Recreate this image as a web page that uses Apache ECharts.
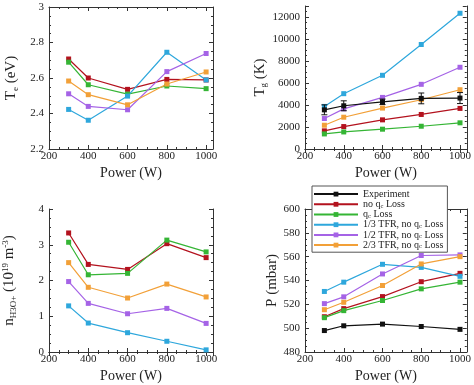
<!DOCTYPE html>
<html><head><meta charset="utf-8">
<script src="https://cdn.jsdelivr.net/npm/echarts@6/dist/echarts.min.js"></script>
<style>html,body{margin:0;padding:0;background:#fff}#c{width:474px;height:385px}</style>
</head><body><div id="c"></div>
<script>
// ---- data ----
const powers = [300, 400, 600, 800, 1000];
const seriesNames = ['Experiment', 'no qc Loss', 'qc Loss', '1/3 TFR, no qc Loss', '1/2 TFR, no qc Loss', '2/3 TFR, no qc Loss'];
const seriesColors = ['#111111', '#b3121e', '#35b535', '#2ea7dc', '#a563e6', '#f2a038'];

// electron temperature (eV)
const te_noQc  = [2.707, 2.600, 2.536, 2.592, 2.589];
const te_qc    = [2.689, 2.562, 2.509, 2.555, 2.540];
const te_tfr13 = [2.423, 2.362, 2.498, 2.745, 2.589];
const te_tfr12 = [2.511, 2.440, 2.421, 2.636, 2.738];
const te_tfr23 = [2.583, 2.506, 2.449, 2.566, 2.634];

// gas temperature (K)
const tg_exp    = [3560, 3930, 4290, 4600, 4630];
const tg_expErr = [450, 450, 250, 490, 500];
const tg_noQc   = [1650, 2040, 2650, 3140, 3690];
const tg_qc     = [1370, 1550, 1800, 2070, 2380];
const tg_tfr13  = [3870, 5030, 6700, 9500, 12340];
const tg_tfr12  = [2770, 3650, 4690, 5880, 7430];
const tg_tfr23  = [2160, 2890, 3720, 4480, 5390];

// H3O+ density (1e19 m^-3)
const n_noQc  = [3.33, 2.45, 2.31, 3.03, 2.64];
const n_qc    = [3.07, 2.16, 2.20, 3.13, 2.80];
const n_tfr13 = [1.29, 0.81, 0.54, 0.30, 0.06];
const n_tfr12 = [1.97, 1.36, 1.07, 1.22, 0.80];
const n_tfr23 = [2.50, 1.81, 1.51, 1.90, 1.54];

// pressure (mbar)
const p_exp   = [498.0, 502.0, 503.4, 501.4, 499.0];
const p_noQc  = [509.6, 516.4, 526.5, 539.0, 546.0];
const p_qc    = [508.8, 514.7, 523.2, 533.0, 538.6];
const p_tfr13 = [530.8, 538.6, 553.6, 551.0, 543.5];
const p_tfr12 = [520.6, 526.3, 545.5, 561.0, 561.5];
const p_tfr23 = [515.5, 521.7, 535.8, 553.9, 560.0];

// axis ranges / ticks
const xMin = 200, xMax = 1035, xStep = 200;
const yRanges = [
  {min: 2.2, max: 3.0, step: 0.2},
  {min: 0, max: 13000, step: 2000},
  {min: 0, max: 4, step: 1},
  {min: 480, max: 600, step: 20}
];

// ---- chart ----
const FONT = 'Liberation Serif';
const TXT = '#222';
const grids = [
  {left: 49, top: 7, width: 164, height: 142},
  {left: 305, top: 6, width: 164, height: 143},
  {left: 49, top: 209, width: 164, height: 143},
  {left: 305, top: 209, width: 164, height: 143}
];
const richStyles = {
  sub: {fontFamily: FONT, fontSize: 9, color: TXT, verticalAlign: 'bottom', lineHeight: 17},
  sup: {fontFamily: FONT, fontSize: 9, color: TXT, verticalAlign: 'top', lineHeight: 17},
  n: {fontFamily: FONT, fontSize: 15, color: TXT, lineHeight: 17}
};
const yNames = [
  '{n|T}{sub|e}{n| (eV)}',
  '{n|T}{sub|g}{n| (K)}',
  '{n|n}{sub|H3O+}{n| (10}{sup|19}{n| m}{sup|-3}{n|)}',
  '{n|P (mbar)}'
];
const yNameGaps = [29, 28, 31, 24];

const xAxes = [], yAxes = [];
const lineCol = '#333';
grids.forEach((g, i) => {
  const r = yRanges[i];
  const common = {
    gridIndex: i, type: 'value',
    axisLine: {show: true, lineStyle: {color: lineCol, width: 1}},
    axisTick: {show: true, inside: true, length: 4, lineStyle: {color: lineCol}},
    minorTick: {show: true, splitNumber: 4, length: 2, lineStyle: {color: lineCol}},
    splitLine: {show: false}
  };
  xAxes.push(Object.assign({}, common, {
    position: 'bottom', min: xMin, max: xMax, interval: xStep,
    name: 'Power (W)', nameLocation: 'middle', nameGap: 17,
    nameTextStyle: {fontFamily: FONT, fontSize: 14, color: TXT},
    axisLabel: {fontFamily: FONT, fontSize: 11, color: TXT, margin: 2,
      formatter: v => (Math.abs(v % xStep) < 1e-6 ? String(v) : '')}
  }));
  xAxes.push(Object.assign({}, common, {
    position: 'top', min: xMin, max: xMax, interval: xStep, axisLabel: {show: false}
  }));
  yAxes.push(Object.assign({}, common, {
    position: 'left', min: r.min, max: r.max, interval: r.step,
    name: yNames[i], nameLocation: 'middle', nameRotate: 90, nameGap: yNameGaps[i],
    nameTextStyle: {fontFamily: FONT, fontSize: 15, color: TXT, rich: richStyles},
    axisLabel: {fontFamily: FONT, fontSize: 11, color: TXT, margin: 5,
      formatter: v => {
        const k = (v - r.min) / r.step;
        return Math.abs(k - Math.round(k)) < 1e-6 ? String(+v.toFixed(2)) : '';
      }}
  }));
  yAxes.push(Object.assign({}, common, {
    position: 'right', min: r.min, max: r.max, interval: r.step, axisLabel: {show: false}
  }));
});

function pairs(vals) { return powers.map((p, k) => [p, vals[k]]); }

const plotData = [
  [null, te_noQc, te_qc, te_tfr13, te_tfr12, te_tfr23],
  [tg_exp, tg_noQc, tg_qc, tg_tfr13, tg_tfr12, tg_tfr23],
  [null, n_noQc, n_qc, n_tfr13, n_tfr12, n_tfr23],
  [p_exp, p_noQc, p_qc, p_tfr13, p_tfr12, p_tfr23]
];

const series = [];
plotData.forEach((arrs, gi) => {
  arrs.forEach((vals, si) => {
    if (!vals) return;
    series.push({
      type: 'line', name: seriesNames[si],
      xAxisIndex: gi * 2, yAxisIndex: gi * 2,
      data: pairs(vals),
      symbol: 'rect', symbolSize: 5,
      lineStyle: {width: 1.2, color: seriesColors[si]},
      itemStyle: {color: seriesColors[si]},
      z: si === 0 ? 5 : 3
    });
  });
});

// error bars for experimental gas temperature
series.push({
  type: 'custom', name: 'Experiment', xAxisIndex: 2, yAxisIndex: 2, z: 6,
  data: powers.map((p, k) => [p, tg_exp[k] - tg_expErr[k], tg_exp[k] + tg_expErr[k]]),
  renderItem: function (params, api) {
    const lo = api.coord([api.value(0), api.value(1)]);
    const hi = api.coord([api.value(0), api.value(2)]);
    const w = 3;
    const st = {stroke: '#111', lineWidth: 1};
    return {type: 'group', children: [
      {type: 'line', shape: {x1: lo[0], y1: lo[1], x2: hi[0], y2: hi[1]}, style: st},
      {type: 'line', shape: {x1: lo[0] - w, y1: lo[1], x2: lo[0] + w, y2: lo[1]}, style: st},
      {type: 'line', shape: {x1: hi[0] - w, y1: hi[1], x2: hi[0] + w, y2: hi[1]}, style: st}
    ]};
  }
});

const legendLabels = {
  'Experiment': '{t|Experiment}',
  'no qc Loss': '{t|no q}{s|c}{t| Loss}',
  'qc Loss': '{t|q}{s|c}{t| Loss}',
  '1/3 TFR, no qc Loss': '{t|1/3 TFR, no q}{s|c}{t| Loss}',
  '1/2 TFR, no qc Loss': '{t|1/2 TFR, no q}{s|c}{t| Loss}',
  '2/3 TFR, no qc Loss': '{t|2/3 TFR, no q}{s|c}{t| Loss}'
};

const chart = echarts.init(document.getElementById('c'), null, {renderer: 'canvas'});
chart.setOption({
  animation: false,
  backgroundColor: '#fff',
  grid: grids.map(g => Object.assign({containLabel: false}, g)),
  xAxis: xAxes,
  yAxis: yAxes,
  legend: {
    data: seriesNames,
    orient: 'vertical',
    left: 312, top: 186,
    itemWidth: 44, itemHeight: 6, itemGap: 0,
    padding: [3, 4, 2, 1],
    backgroundColor: '#fff',
    borderColor: '#555', borderWidth: 1, borderRadius: 0,
    z: 20,
    formatter: name => legendLabels[name],
    textStyle: {
      fontFamily: FONT, fontSize: 10, color: TXT, lineHeight: 10.2,
      rich: {
        t: {fontFamily: FONT, fontSize: 10, color: TXT, lineHeight: 10.2},
        s: {fontFamily: FONT, fontSize: 6.5, color: TXT, verticalAlign: 'bottom', lineHeight: 10.2}
      }
    }
  },
  series: series
});
</script></body></html>
